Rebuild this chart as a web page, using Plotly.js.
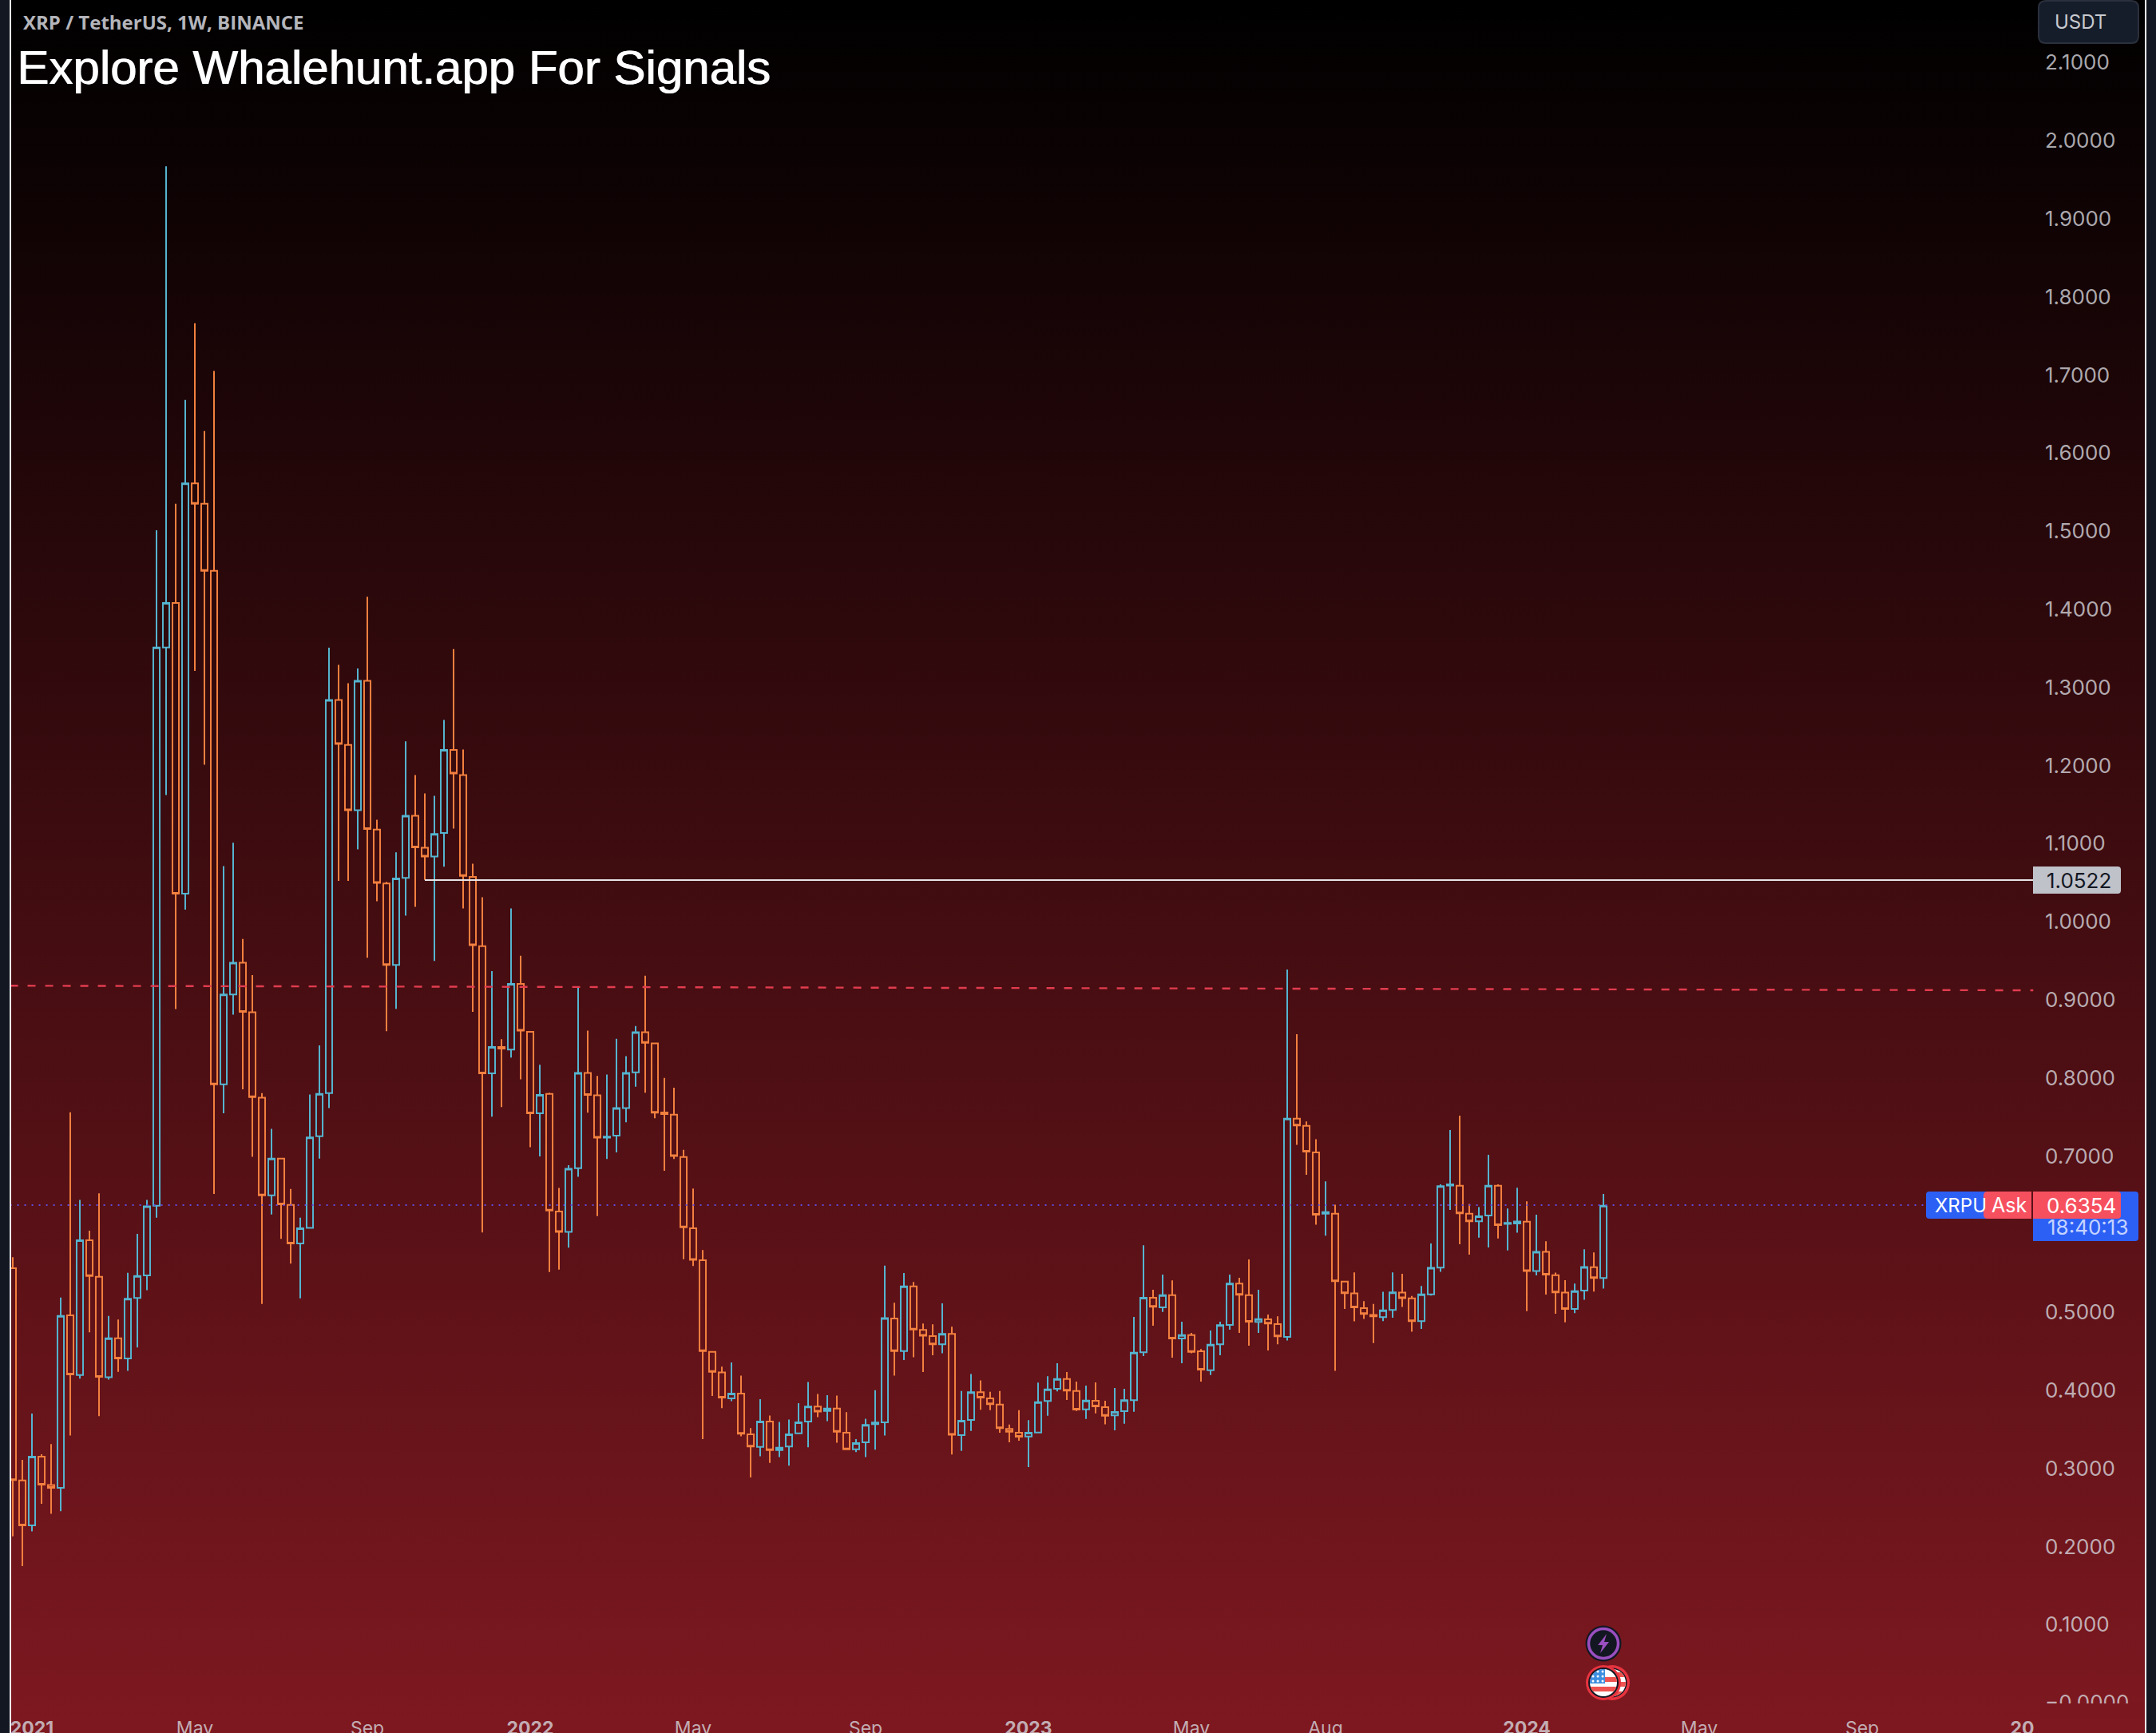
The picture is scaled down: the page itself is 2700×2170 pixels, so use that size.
<!DOCTYPE html>
<html><head><meta charset="utf-8">
<script src="https://cdn.plot.ly/plotly-3.0.1.min.js"></script>
<style>
html,body{margin:0;padding:0;width:2700px;height:2170px;overflow:hidden;background:#131722}
#frame{position:absolute;left:12px;top:0;width:2672px;height:2170px;border-left:2px solid #f2f2f2;border-right:2px solid #f2f2f2;background:linear-gradient(to bottom,#000000 0%,#7e1820 100%)}
#chart{position:absolute;left:0;top:0;width:2700px;height:2170px}
</style></head><body>
<div id="frame"></div><div id="chart"></div>
<script>
const weeks = [
'2020-12-21','2020-12-28',
'2021-01-04','2021-01-11','2021-01-18','2021-01-25','2021-02-01','2021-02-08','2021-02-15','2021-02-22','2021-03-01','2021-03-08','2021-03-15','2021-03-22','2021-03-29','2021-04-05','2021-04-12','2021-04-19','2021-04-26','2021-05-03','2021-05-10','2021-05-17','2021-05-24','2021-05-31','2021-06-07','2021-06-14','2021-06-21','2021-06-28','2021-07-05','2021-07-12','2021-07-19','2021-07-26','2021-08-02','2021-08-09','2021-08-16','2021-08-23','2021-08-30','2021-09-06','2021-09-13','2021-09-20','2021-09-27','2021-10-04','2021-10-11','2021-10-18','2021-10-25','2021-11-01','2021-11-08','2021-11-15','2021-11-22','2021-11-29','2021-12-06','2021-12-13','2021-12-20','2021-12-27',
'2022-01-03','2022-01-10','2022-01-17','2022-01-24','2022-01-31','2022-02-07','2022-02-14','2022-02-21','2022-02-28','2022-03-07','2022-03-14','2022-03-21','2022-03-28','2022-04-04','2022-04-11','2022-04-18','2022-04-25','2022-05-02','2022-05-09','2022-05-16','2022-05-23','2022-05-30','2022-06-06','2022-06-13','2022-06-20','2022-06-27','2022-07-04','2022-07-11','2022-07-18','2022-07-25','2022-08-01','2022-08-08','2022-08-15','2022-08-22','2022-08-29','2022-09-05','2022-09-12','2022-09-19','2022-09-26','2022-10-03','2022-10-10','2022-10-17','2022-10-24','2022-10-31','2022-11-07','2022-11-14','2022-11-21','2022-11-28','2022-12-05','2022-12-12','2022-12-19','2022-12-26',
'2023-01-02','2023-01-09','2023-01-16','2023-01-23','2023-01-30','2023-02-06','2023-02-13','2023-02-20','2023-02-27','2023-03-06','2023-03-13','2023-03-20','2023-03-27','2023-04-03','2023-04-10','2023-04-17','2023-04-24','2023-05-01','2023-05-08','2023-05-15','2023-05-22','2023-05-29','2023-06-05','2023-06-12','2023-06-19','2023-06-26','2023-07-03','2023-07-10','2023-07-17','2023-07-24','2023-07-31','2023-08-07','2023-08-14','2023-08-21','2023-08-28','2023-09-04','2023-09-11','2023-09-18','2023-09-25','2023-10-02','2023-10-09','2023-10-16','2023-10-23','2023-10-30','2023-11-06','2023-11-13','2023-11-20','2023-11-27','2023-12-04','2023-12-11','2023-12-18','2023-12-25',
'2024-01-01','2024-01-08','2024-01-15','2024-01-22','2024-01-29','2024-02-05','2024-02-12','2024-02-19','2024-02-26'];

const open = [
.5553,.2835,.2260,.3140,.2777,.2741,.4948,.4185,.5911,.5441,.4156,.4655,.4397,.5171,.5459,.6351,1.350,1.407,1.0348,1.560,
1.534,1.448,.7906,.9057,.9462,.8828,.7736,.6486,.6956,.6363,.5870,.6069,.7243,.7795,1.2826,1.2252,1.1417,1.3073,1.1169,1.0478,
.9435,1.0550,1.1345,1.0935,1.0824,1.1124,1.2187,1.1867,1.0563,.9676,.8046,.8385,.8352,.9193,.8580,.7537,.7785,.6278,.6018,.6833,
.8052,.7765,.7224,.7250,.7602,.8059,.8574,.8430,.7545,.7518,.6976,.6063,.5654,.4480,.4219,.3886,.3948,.3426,.3265,.3588,
.3223,.3270,.3437,.3588,.3781,.3724,.3755,.3447,.3233,.3322,.3555,.3578,.4908,.4491,.5320,.4762,.4684,.4579,.4710,.3416,
.3609,.3964,.3886,.3807,.3494,.3447,.3398,.3449,.3851,.4008,.4134,.3981,.3746,.3855,.3773,.3667,.3722,.3862,.4475,.5174,
.5051,.5208,.4652,.4697,.4489,.4247,.4577,.4826,.5355,.5208,.4864,.4898,.4836,.4674,.7467,.7376,.7036,.6250,.6251,.5382,
.5229,.5042,.4955,.4926,.5017,.5240,.5167,.4875,.5218,.5561,.6610,.6609,.6251,.6153,.6226,.6609,.6120,.6125,.6149,.5517,
.5762,.5462,.5240,.5031,.5265,.5565,.5426];

const high = [
.5694,.3099,.3692,.3170,.3299,.5177,.7549,.6427,.6034,.6510,.4942,.4895,.5494,.5993,.6427,1.500,1.966,1.534,1.667,1.765,
1.627,1.704,1.07,1.10,.9767,.9304,.7795,.7337,.6967,.6568,.6198,.7777,.8405,1.3497,1.3276,1.3041,1.3230,1.4149,1.1293,1.0498,
1.0876,1.2297,1.1867,1.1632,1.1600,1.2571,1.3478,1.2193,1.0732,1.0302,.9357,.8483,1.0159,.9552,.8580,.8157,.7798,.6579,.6872,.9154,
.8593,.8013,.8033,.8489,.8268,.8652,.9298,.8430,.7987,.7863,.7068,.6572,.5784,.4480,.4292,.4345,.4178,.3505,.3875,.3666,
.3583,.3614,.3823,.4094,.3943,.3927,.3922,.3708,.3364,.3625,.3990,.5586,.5111,.5492,.5377,.4845,.4835,.5101,.4804,.3979,
.4198,.4115,.3969,.3979,.3551,.3734,.3606,.4087,.4168,.4335,.4223,.4100,.4049,.4090,.3855,.4018,.4008,.4929,.5845,.5276,
.5470,.5395,.4867,.4724,.4516,.4755,.4867,.5470,.5430,.5665,.5276,.4959,.4935,.9377,.8548,.7431,.7204,.6664,.6364,.5382,
.5499,.5130,.5094,.5251,.5499,.5481,.5196,.5324,.5868,.6627,.7321,.7504,.6375,.6335,.7003,.6627,.6317,.6583,.6408,.6237,
.5897,.5495,.5400,.5356,.5795,.5755,.6503];

const low = [
.2119,.1738,.2184,.2536,.2407,.2442,.3410,.4138,.4731,.3657,.4127,.4226,.4238,.4537,.5271,.6199,1.161,.887,1.0143,1.320,
1.20,.6504,.7537,.8799,.7842,.6979,.5095,.6240,.5929,.5612,.5165,.6069,.6956,.7602,1.0511,1.0511,1.0915,.9526,1.0250,.8587,
.8874,1.0067,1.0178,1.0524,.9487,1.0693,1.1182,1.0159,.8835,.6011,.7492,.7615,.8248,.7970,.7100,.6983,.5503,.5535,.5816,.6722,
.7544,.6220,.6950,.7035,.7420,.7876,.7798,.7472,.6800,.6950,.5666,.5581,.3364,.3917,.3760,.3849,.3400,.2873,.3145,.3061,
.3134,.3025,.3437,.3260,.3646,.3593,.3317,.3233,.3197,.3134,.3228,.3411,.4178,.4376,.4412,.4224,.4438,.4464,.3166,.3212,
.3468,.3739,.3734,.3447,.3322,.3343,.3005,.3449,.3664,.3974,.3865,.3725,.3623,.3695,.3552,.3477,.3562,.3715,.4427,.4816,
.4993,.4407,.4335,.4462,.4100,.4185,.4438,.4765,.4724,.4560,.4724,.4499,.4577,.4626,.7131,.6748,.6109,.5970,.4239,.5031,
.4871,.4904,.4593,.4875,.4918,.5057,.4739,.4776,.5203,.5506,.6299,.5860,.5725,.5944,.5817,.5933,.5780,.6006,.5002,.5459,
.5214,.4969,.4860,.4977,.5148,.5254,.5291];

const close = [
.2841,.2260,.3140,.2782,.2741,.4942,.4191,.5911,.5453,.4162,.4655,.4397,.5160,.5453,.6345,1.350,1.407,1.0348,1.560,1.534,
1.448,.7906,.9057,.9462,.8834,.7742,.6486,.6956,.6369,.5870,.6063,.7226,.7783,1.2826,1.2265,1.1417,1.3073,1.1176,1.0485,.9435,
1.0543,1.1345,1.0941,1.0824,1.1111,1.2187,1.1887,1.0576,.9689,.8046,.8385,.8365,.9193,.8593,.7537,.7772,.6292,.6018,.6826,.8052,
.7772,.7224,.7238,.7602,.8052,.8574,.8437,.7544,.7525,.6989,.6076,.5659,.4491,.4225,.3896,.3948,.3432,.3270,.3588,.3223,
.3254,.3426,.3578,.3781,.3718,.3755,.3458,.3233,.3312,.3546,.3575,.4913,.4491,.5320,.4767,.4689,.4579,.4710,.3421,.3598,
.3964,.3896,.3812,.3505,.3458,.3395,.3446,.3838,.4001,.4134,.3984,.3742,.3858,.3783,.3664,.3712,.3862,.4472,.5174,.5058,
.5208,.4652,.4697,.4482,.4254,.4574,.4823,.5355,.5211,.4867,.4901,.4843,.4680,.7467,.7380,.7044,.6237,.6270,.5386,.5232,
.5050,.4966,.4935,.5013,.5243,.5170,.4875,.5218,.5557,.6602,.6625,.6255,.6153,.6218,.6609,.6105,.6133,.6150,.5517,.5762,
.5470,.5243,.5031,.5258,.5568,.5426,.6353];

const priceTicks = [0,.1,.2,.3,.4,.5,.7,.8,.9,1,1.1,1.2,1.3,1.4,1.5,1.6,1.7,1.8,1.9,2,2.1];
const priceLabels = ['\u22120.0000','0.1000','0.2000','0.3000','0.4000','0.5000','0.7000','0.8000','0.9000','1.0000','1.1000','1.2000','1.3000','1.4000','1.5000','1.6000','1.7000','1.8000','1.9000','2.0000','2.1000'];
const dateTicks = ['2021-01-04','2021-05-03','2021-09-06','2022-01-03','2022-05-02','2022-09-05','2023-01-02','2023-05-01','2023-08-07','2024-01-01','2024-05-06','2024-09-02','2024-12-28'];
const dateLabels = ['<b>2021</b>','May','Sep','<b>2022</b>','May','Sep','<b>2023</b>','May','Aug','<b>2024</b>','May','Sep','<b>20</b>'];

const supportX = ['2021-10-18','2025-01-05'];
const supportY = [1.0522,1.0522];
const resistanceX = ['2020-12-19','2025-01-05'];
const resistanceY = [.9169,.9110];
const askX = ['2020-12-19','2024-10-18'];
const askY = [.6360,.6360];

const W=2700,H=2170,L=14,R=14,B=22,PH=H-B,PW=W-L-R;
const px=x=>(x-L)/PW, py=y=>(PH-y)/PH;

function tag(x0,x1,y0,y1,color,rl,rr,line){
  const a=px(x0),b=px(x1),t=py(y0),u=py(y1);
  const dx=r=>r/PW, dy=r=>r/PH;
  const d=`M ${a+dx(rl)} ${t} L ${b-dx(rr)} ${t} Q ${b} ${t} ${b} ${t-dy(rr)} L ${b} ${u+dy(rr)} Q ${b} ${u} ${b-dx(rr)} ${u} L ${a+dx(rl)} ${u} Q ${a} ${u} ${a} ${u+dy(rl)} L ${a} ${t-dy(rl)} Q ${a} ${t} ${a+dx(rl)} ${t} Z`;
  return {type:'path',xref:'paper',yref:'paper',path:d,fillcolor:color,line:line||{width:0},layer:'above'};
}
function txt(x,y,text,size,color,anchor,family,weight,shadow){
  return {xref:'paper',yref:'paper',x:px(x),y:py(y),text,showarrow:false,xanchor:anchor||'left',yanchor:'middle',
    font:{family:family||'Inter',size,color,weight:weight||400,shadow:shadow||'none'},borderpad:0,borderwidth:0};
}

const boltSvg=`<svg xmlns="http://www.w3.org/2000/svg" width="46" height="46" viewBox="0 0 46 46"><circle cx="23" cy="23" r="22.5" fill="#131722"/><circle cx="23" cy="23" r="18.5" fill="#131722" stroke="#9a4fc0" stroke-width="3.5"/><path d="M27 11 L16 25 L22 25 L19 35 L30 21 L24 21 Z" fill="#9a4fc0"/></svg>`;
const flagSvg=`<svg xmlns="http://www.w3.org/2000/svg" width="56" height="46" viewBox="0 0 56 46"><defs><clipPath id="c"><circle cx="22" cy="23" r="17"/></clipPath><clipPath id="d"><circle cx="33" cy="23" r="17"/></clipPath></defs><circle cx="33" cy="23" r="22" fill="#e8343f"/><circle cx="33" cy="23" r="18.5" fill="#131722"/><g clip-path="url(#d)"><rect x="10" y="4" width="46" height="38" fill="#fff"/><rect x="10" y="10" width="46" height="6" fill="#ef5350"/><rect x="10" y="22" width="46" height="6" fill="#ef5350"/><rect x="10" y="34" width="46" height="6" fill="#ef5350"/></g><circle cx="22" cy="23" r="22" fill="#e8343f"/><circle cx="22" cy="23" r="19" fill="#131722"/><g clip-path="url(#c)"><rect x="2" y="4" width="40" height="38" fill="#fff"/><rect x="2" y="16" width="40" height="6" fill="#ef5350"/><rect x="2" y="28" width="40" height="6" fill="#ef5350"/><rect x="2" y="4" width="22" height="20" fill="#3d8fe0"/><g fill="#fff"><circle cx="9" cy="9" r="1.5"/><circle cx="15" cy="9" r="1.5"/><circle cx="21" cy="9" r="1.5"/><circle cx="9" cy="15" r="1.5"/><circle cx="15" cy="15" r="1.5"/><circle cx="21" cy="15" r="1.5"/><circle cx="9" cy="21" r="1.5"/><circle cx="15" cy="21" r="1.5"/><circle cx="21" cy="21" r="1.5"/></g></g></svg>`;
const uri=s=>'data:image/svg+xml;charset=utf-8,'+encodeURIComponent(s);

const traces=[
 {type:'candlestick',x:weeks,open,high,low,close,whiskerwidth:0,hoverinfo:'skip',showlegend:false,
  increasing:{line:{color:'#55b4cf',width:2},fillcolor:'rgba(0,0,0,0)'},
  decreasing:{line:{color:'#f3803f',width:2},fillcolor:'rgba(0,0,0,0)'}},
 {type:'scatter',mode:'lines',x:supportX,y:supportY,line:{color:'#e6e3e6',width:2},hoverinfo:'skip',showlegend:false},
 {type:'scatter',mode:'lines',x:resistanceX,y:resistanceY,line:{color:'#e23c4f',width:2.4,dash:'10px,12px'},hoverinfo:'skip',showlegend:false},
 {type:'scatter',mode:'lines',x:askX,y:askY,line:{color:'#604ce0',width:2.2,dash:'2px,7px'},hoverinfo:'skip',showlegend:false}
];

const tickColor='rgba(214,214,220,0.8)';
const layout={
 width:W,height:H,margin:{l:L,r:R,t:0,b:B,pad:0},
 paper_bgcolor:'rgba(0,0,0,0)',plot_bgcolor:'rgba(0,0,0,0)',showlegend:false,dragmode:false,
 boxgap:0.2,boxgroupgap:0.16,
 xaxis:{type:'date',range:['2020-12-19 20:00','2025-03-27 12:00'],tickmode:'array',tickvals:dateTicks,ticktext:dateLabels,
  showgrid:false,zeroline:false,showline:false,ticks:'',ticklen:0,tickangle:0,rangeslider:{visible:false},
  tickfont:{family:'Inter',size:23,color:tickColor},automargin:false},
 yaxis:{range:[-0.01738,2.17894],side:'right',anchor:'free',position:px(2560),tickmode:'array',tickvals:priceTicks,ticktext:priceLabels,
  showgrid:false,zeroline:false,showline:false,ticks:'',ticklen:0,ticklabelshift:1,
  tickfont:{family:'Inter',size:26,color:tickColor},automargin:false},
 shapes:[
  {type:'rect',xref:'paper',yref:'paper',x0:px(2555),x1:px(2685),y0:py(2152),y1:py(2133),fillcolor:'#7b171f',line:{width:0},layer:'above'},
  tag(2553,2678,1,54,'#161d2a',9,9,{color:'#2a303c',width:2}),
  tag(2546,2656,1085,1119,'#c0c2ca',0,4),
  tag(2412,2490,1492,1526,'#2c60f5',4,0),
  tag(2484,2544,1492,1526,'#f6505f',5,0),
  tag(2546,2678,1492,1554,'#2c60f5',0,4),
  tag(2546,2656,1492,1526,'#f6505f',0,4)
 ],
 annotations:[
  txt(29,27,'XRP / TetherUS, 1W, BINANCE',24,'#b4b5bb','left','Open Sans',700),
  txt(21,84,'Explore Whalehunt.app For Signals',60,'#ffffff','left','Liberation Sans',400,'1px 0 0 #ffffff'),
  txt(2573,27,'USDT',24,'#c8cad0','left'),
  txt(2563,1102,'1.0522',26,'#131722','left'),
  txt(2423,1509,'XRPU',24,'#ffffff','left'),
  txt(2494,1509,'Ask',25,'#ffffff','left'),
  txt(2563,1509,'0.6354',26,'#ffffff','left'),
  txt(2564,1536,'18:40:13',26,'#c5d3ff','left')
 ],
 images:[
  {source:uri(boltSvg),xref:'paper',yref:'paper',x:px(1985),y:py(2035),sizex:46/PW,sizey:46/PH,sizing:'stretch',xanchor:'left',yanchor:'top',layer:'above'},
  {source:uri(flagSvg),xref:'paper',yref:'paper',x:px(1986),y:py(2084),sizex:56/PW,sizey:46/PH,sizing:'stretch',xanchor:'left',yanchor:'top',layer:'above'}
 ]
};
Plotly.newPlot('chart',traces,layout,{displayModeBar:false,staticPlot:true});
</script></body></html>
